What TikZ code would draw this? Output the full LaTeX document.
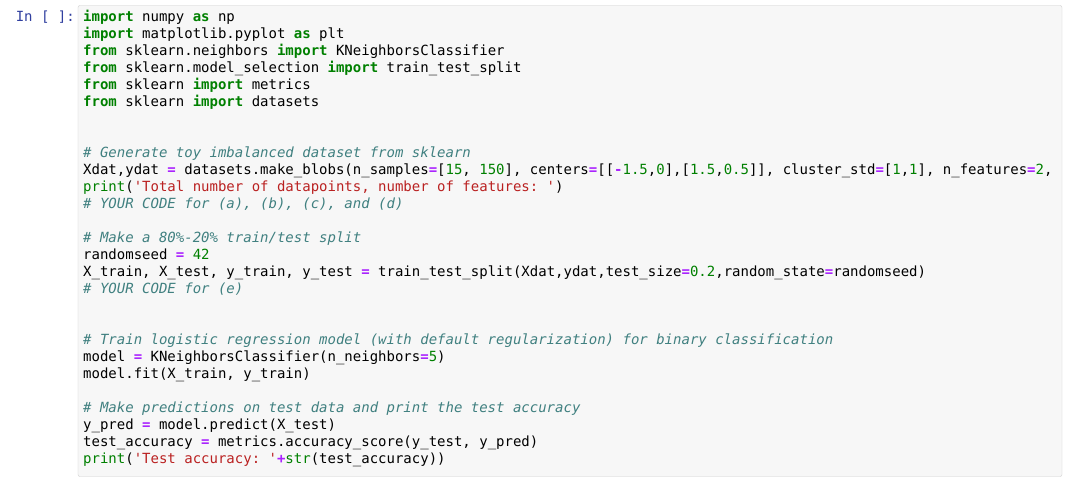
\documentclass[tikz,border=0pt]{standalone}
\usepackage{fontspec}
\setmonofont{DejaVu Sans Mono}
\definecolor{kw}{HTML}{008000}
\definecolor{num}{HTML}{008000}
\definecolor{str}{HTML}{BA2121}
\definecolor{cmt}{HTML}{408080}
\definecolor{op}{HTML}{AA22FF}
\definecolor{prm}{HTML}{303F9F}
\definecolor{cellbg}{HTML}{F7F7F7}
\definecolor{cellbd}{HTML}{CFCFCF}
\newcommand{\K}[1]{{\color{kw}\bfseries #1}}
\newcommand{\N}[1]{{\color{num}#1}}
\newcommand{\Sg}[1]{{\color{str}#1}}
\newcommand{\C}[1]{{\color{cmt}\itshape #1}}
\newcommand{\Op}[1]{{\color{op}\bfseries #1}}
\newcommand{\B}[1]{{\color{kw}#1}}
\newcommand{\Ln}[2]{\node[codeline] (l#1) at (83pt,{-21.5pt-17pt*(#1-1)}) {#2};}
\begin{document}
\begin{tikzpicture}[x=1pt,y=1pt,
  codeline/.style={anchor=base west,inner sep=0pt,font=\ttfamily\fontsize{14}{17}\selectfont,text=black}]
\useasboundingbox (0,0) rectangle (1083,-486);
\fill[white] (0,0) rectangle (1083,-486);
\draw[cellbd,fill=cellbg,rounded corners=2pt] (78,-5.5) rectangle (1062,-476.5);
\node[anchor=base east,inner sep=0pt,font=\ttfamily\fontsize{14}{17}\selectfont,text=prm] (prompt) at (75,-21.5) {In [ ]:};
\Ln{1}{\K{import} numpy \K{as} np}
\Ln{2}{\K{import} matplotlib.pyplot \K{as} plt}
\Ln{3}{\K{from} sklearn.neighbors \K{import} KNeighborsClassifier}
\Ln{4}{\K{from} sklearn.model\_selection \K{import} train\_test\_split}
\Ln{5}{\K{from} sklearn \K{import} metrics}
\Ln{6}{\K{from} sklearn \K{import} datasets}
\Ln{9}{\C{\# Generate toy imbalanced dataset from sklearn}}
\Ln{10}{Xdat,ydat \Op{=} datasets.make\_blobs(n\_samples\Op{=}[\N{15}, \N{150}], centers\Op{=}[[\Op{-}\N{1.5},\N{0}],[\N{1.5},\N{0.5}]], cluster\_std\Op{=}[\N{1},\N{1}], n\_features\Op{=}\N{2},}
\Ln{11}{\B{print}(\Sg{'Total number of datapoints, number of features: '})}
\Ln{12}{\C{\# YOUR CODE for (a), (b), (c), and (d)}}
\Ln{14}{\C{\# Make a 80\%-20\% train/test split}}
\Ln{15}{randomseed \Op{=} \N{42}}
\Ln{16}{X\_train, X\_test, y\_train, y\_test \Op{=} train\_test\_split(Xdat,ydat,test\_size\Op{=}\N{0.2},random\_state\Op{=}randomseed)}
\Ln{17}{\C{\# YOUR CODE for (e)}}
\Ln{20}{\C{\# Train logistic regression model (with default regularization) for binary classification}}
\Ln{21}{model \Op{=} KNeighborsClassifier(n\_neighbors\Op{=}\N{5})}
\Ln{22}{model.fit(X\_train, y\_train)}
\Ln{24}{\C{\# Make predictions on test data and print the test accuracy}}
\Ln{25}{y\_pred \Op{=} model.predict(X\_test)}
\Ln{26}{test\_accuracy \Op{=} metrics.accuracy\_score(y\_test, y\_pred)}
\Ln{27}{\B{print}(\Sg{'Test accuracy: '}\Op{+}\B{str}(test\_accuracy))}
\end{tikzpicture}
\end{document}
